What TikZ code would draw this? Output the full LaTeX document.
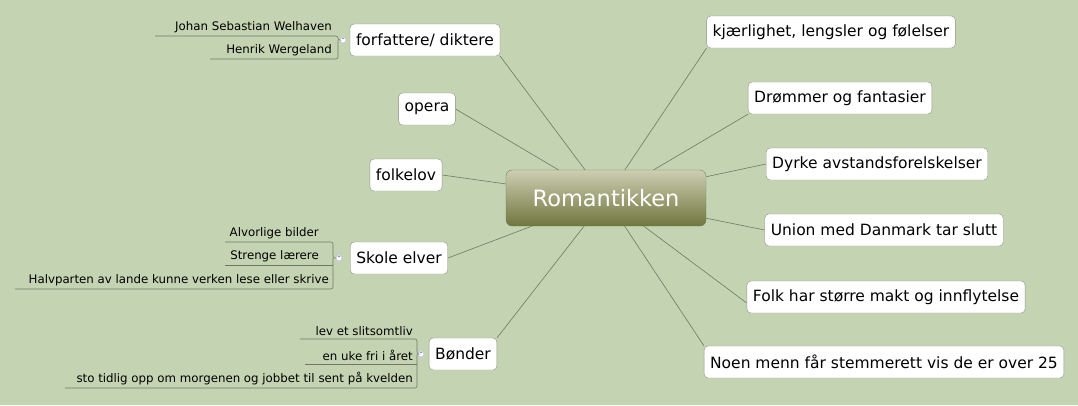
\documentclass[tikz,border=0pt]{standalone}
\usepackage{fontspec}
\setmainfont{DejaVu Sans}
\usetikzlibrary{backgrounds}
\definecolor{bg}{RGB}{196,212,178}
\definecolor{ln}{RGB}{110,120,100}
\definecolor{ctop}{RGB}{206,206,178}
\definecolor{cbot}{RGB}{112,118,62}
\begin{document}
\begin{tikzpicture}[x=1pt,y=-1pt,
  topic/.style={draw=ln!80,fill=white,rounded corners=4pt,font=\fontsize{15.5}{18}\selectfont,inner xsep=6pt,minimum height=32pt},
  sub/.style={font=\fontsize{11.8}{14}\selectfont,inner sep=1pt,anchor=south east},
  ul/.style={draw=ln,line width=0.6pt},
  con/.style={draw=ln,line width=0.6pt},
  mn/.style={circle,fill=white,draw=blue!30,inner sep=0pt,minimum size=6pt,font=\fontsize{6}{6}\selectfont}]
\useasboundingbox (0,0) rectangle (1078,405);
\node[topic,top color=ctop,bottom color=cbot,draw=ln,rounded corners=6pt,minimum width=200pt,minimum height=56pt,text=white,font=\fontsize{22.5}{26}\selectfont] (c) at (606,198) {Romantikken};
\node[topic] (f) at (425,40) {forfattere/ diktere};
\node[topic] (o) at (427,109) {opera};
\node[topic] (fl) at (406,175) {folkelov};
\node[topic] (s) at (399,258) {Skole elver};
\node[topic] (b) at (463,354) {Bønder};
\node[topic] (r1) at (831,32) {kjærlighet, lengsler og følelser};
\node[topic] (r2) at (840,98) {Drømmer og fantasier};
\node[topic] (r3) at (877,164) {Dyrke avstandsforelskelser};
\node[topic] (r4) at (884,230) {Union med Danmark tar slutt};
\node[topic] (r5) at (886,297) {Folk har større makt og innflytelse};
\node[topic] (r6) at (884,362) {Noen menn får stemmerett vis de er over 25};
\begin{scope}[on background layer]
\fill[bg] (0,0) rectangle (1078,405);
\draw[con] (c.center) -- (f.south east);
\draw[con] (c.center) -- (o.east);
\draw[con] (c.center) -- (fl.east);
\draw[con] (c.center) -- (s.east);
\draw[con] (c.center) -- (b.north east);
\draw[con] (c.center) -- (r1.south west);
\draw[con] (c.center) -- (r2.south west);
\draw[con] (c.center) -- (r3.west);
\draw[con] (c.center) -- (r4.west);
\draw[con] (c.center) -- ([yshift=-6pt]r5.west);
\draw[con] (c.center) -- (r6.north west);
\end{scope}
% subtopics forfattere
\node[sub] (f1) at (333,34) {Johan Sebastian Welhaven};
\node[sub] (f2) at (333,57) {Henrik Wergeland};
\node[mn] (fm) at (343,40) {--};
\draw[ul,rounded corners=2pt] (155,36) -- (338,36) -- (338,40) -- (fm.west);
\draw[ul,rounded corners=2pt] (210,59) -- (338,59) -- (338,40);
% skole
\node[sub] (s1) at (320,240) {Alvorlige bilder};
\node[sub] (s2) at (320,263) {Strenge lærere};
\node[sub] (s3) at (330,287) {Halvparten av lande kunne verken lese eller skrive};
\node[mn] (sm) at (339,258) {--};
\draw[ul,rounded corners=2pt] (225,242) -- (333,242) -- (333,258) -- (sm.west);
\draw[ul] (225,265) -- (333,265);
\draw[ul,rounded corners=2pt] (15,289) -- (333,289) -- (333,258);
% bonder
\node[sub] (b1) at (414,337) {lev et slitsomtliv};
\node[sub] (b2) at (414,362) {en uke fri i året};
\node[sub] (b3) at (414,386) {sto tidlig opp om morgenen og jobbet til sent på kvelden};
\node[mn] (bm) at (421,354) {--};
\draw[ul,rounded corners=2pt] (300,339) -- (417,339) -- (417,354) -- (bm.west);
\draw[ul] (305,364) -- (417,364);
\draw[ul,rounded corners=2pt] (65,388) -- (417,388) -- (417,354);
\end{tikzpicture}
\end{document}
